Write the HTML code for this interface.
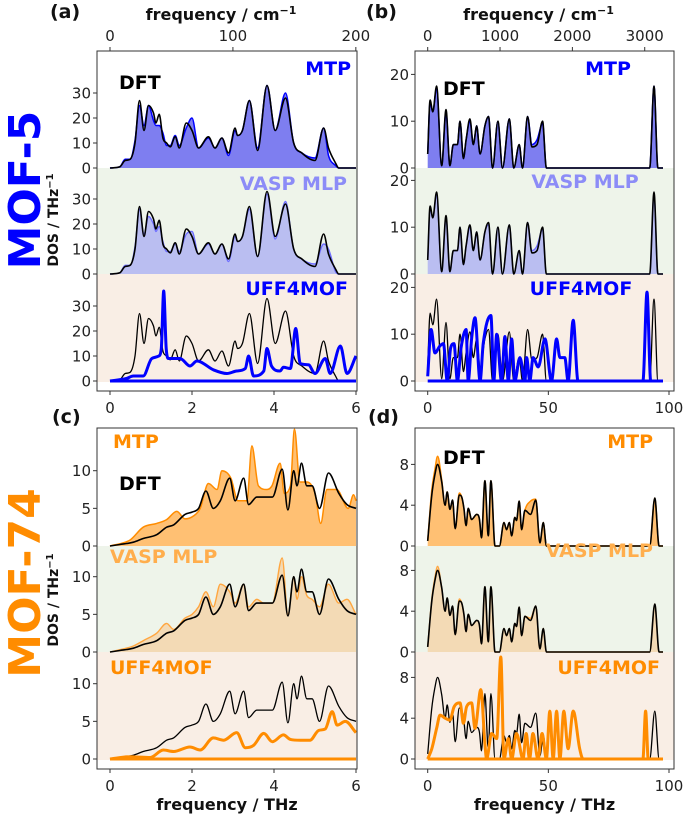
<!DOCTYPE html>
<html><head><meta charset="utf-8"><style>
html,body{margin:0;padding:0;background:#fff;}
svg{display:block;font-family:"DejaVu Sans","Liberation Sans",sans-serif;}
.tk{font-size:15px;fill:#222;}
.lb{font-size:19px;font-weight:bold;}
.ax{font-size:16px;font-weight:bold;fill:#111;}
</style></head><body>
<svg id="fig" width="685" height="817" viewBox="0 0 685 817"></svg>
<script>
// ---------- data (THz, DOS / THz^-1) ----------
const aFreq=[0,0.24,0.37,0.49,0.61,0.72,0.83,0.94,1.06,1.12,1.2,1.29,1.38,1.47,1.59,1.69,1.86,2.0,2.16,2.4,2.56,2.73,2.89,3.05,3.11,3.23,3.4,3.6,3.83,4.03,4.28,4.48,4.68,5.0,5.21,5.33,5.5,5.58,6.0];
const aDft=[0,0.5,3,3.5,10,27,15,25,22,18,21.5,12,10,8.5,12.5,8,18,15,8,12.5,8,12,6,16,13,15,27,7,33,15,28,10,6,3,16,8,2,0,0];
const aMtp=[0,0.5,3.5,3.5,11,25,17,25,19,17,17,14,9,9,13,9,16,20,8,12,8,12,5,15,13,15,27,8,33,15,30,10,6,4,16,5,1,0,0];
const aVasp=[0,0.5,3.5,3.5,11,26,16,23,20,17,19,13,9,9,12,9,16,17,8,12,8,12,5,15,13,15,26,7,32,14,29,10,6,4,12,10,1,0,0];
const aUffFreq=[0,0.4,0.57,0.81,1.02,1.19,1.25,1.31,1.37,1.43,1.71,1.95,2.12,2.52,2.85,3.09,3.3,3.38,3.5,3.75,3.83,3.94,4.15,4.23,4.4,4.53,4.64,4.84,5.0,5.25,5.37,5.62,5.78,6.0];
const aUff=[0,1,2,2,9,10,13,36,13,9,9,6,8,4.5,3,4,5,10,2,4,13,6,4,5.5,5,21,7,6.5,3,9,3,14,3,10];

const bFreq=[0,1,2.1,3.7,5.8,7.6,9.2,10.6,12.3,13.4,14.8,15.9,17.5,18.9,20.3,21.7,23.7,25.2,26.9,29.1,31,33.8,35.7,37.9,39.3,41.4,43.2,45.3,47.6,49.2,92,93.8,95.4,97.5];
const bDft=[3,14.5,12,17.5,0.5,12.5,0.5,5,5,10,2,6,10.5,5,9,3,9,11,0,10,0,10.5,0,5,0,11,4.5,5,10,0,0,17.5,0,0];
const bMtp=[3,14,12,17,0.5,12,0.5,5,5,10,2,6,10,5,9,3,9,11,0,10,0,10.5,0,5,0,11,5,6,9.5,0,0,17.5,0,0];
const bVasp=[3,14,12,17,0.5,12,0.5,5,5,10,2,6,10,5,9,3,9,10.5,0,10,0,10.5,0,5,0,11,5,6,9.5,0,0,17,0,0];
const bUffFreq=[0,1.4,3,5.1,6.5,8.1,9.5,10.9,12.3,13.8,15.9,16.8,18.2,19.6,21.7,23,26.2,27.4,28.6,30.6,32,33.4,34.8,36.1,38.2,40.3,41,42.3,43.7,45.8,48.6,51.3,53.4,54.8,56.8,58.2,60.3,62.3,89.2,90.9,92.4,97.5];
const bUff=[1,11,6,7.5,8,0,7,8,0,7,11,0,9,13.5,0,8,14,0,10,0,9.5,0,9,0,5,0,5,0,5,3,9,0,9,5,5,0,13,0,0,19,0,0];

const cFreq=[0,0.24,0.57,0.81,1.14,1.38,1.55,1.83,2.0,2.16,2.34,2.52,2.69,2.92,3.05,3.26,3.38,3.58,3.75,3.96,4.2,4.34,4.48,4.56,4.67,4.8,4.93,5.11,5.33,5.58,5.78,6.0];
const cDft=[0,0.2,0.5,1,1.5,2.5,2.8,4.2,4.5,5,7.3,5,6,9,6,9,5.5,6.5,6.5,6.5,10.2,4.8,10,8,11,8,8,5,9.7,7,5.5,5];
const cVasp=[0,0.3,0.8,1.5,2.5,3.8,3,4.5,5,6,8,6,9,8,6.5,9,6,7,6.5,6.5,12.5,5,10,7,10,7.5,7,6,9,6.5,7,5];
const cMtpFreq=[0,0.49,0.81,1.14,1.38,1.63,1.83,2.04,2.2,2.4,2.61,2.73,2.95,3.12,3.34,3.46,3.62,3.83,3.95,4.15,4.25,4.4,4.5,4.63,4.8,5.0,5.14,5.29,5.53,5.81,5.94,6.0];
const cMtp=[0,0.8,2.5,3,3.5,4.6,3.6,4,5,8.3,7.5,10,9,6,6,13.3,8,7.5,8,11,7,8,15.5,8.5,8.5,7,3,7.5,7.5,5,6.8,6];
const cUffFreq=[0,0.5,0.98,1.3,1.55,1.95,2.2,2.52,2.77,3.09,3.3,3.5,3.75,3.96,4.23,4.4,4.64,4.88,5.09,5.25,5.42,5.54,5.74,6.0];
const cUff=[0,0.3,0.2,1.2,1,1.6,1.2,2.8,2.5,3.5,1.5,1.8,3.4,2.3,3.2,2.6,2.5,2.5,3.8,4,6.3,4.5,5,3.5];

const dFreq=[0,1.7,3,4.1,5.8,7.2,8.1,9.2,10.3,11.4,13.1,14.1,15,15.9,16.8,18.2,20.3,21.4,22.3,23.7,25.1,26.2,27.9,29.7,31.6,32.7,33.8,34.8,36.1,36.8,37.9,38.9,40.3,42.6,44.8,46.5,47.9,49.2,92,94.1,95.9,97.5];
const dDft=[0.5,5,7,8,6.3,4,5.3,3.6,4.5,1.7,5,4.8,3.7,2,3.7,2.6,3.1,2.7,0.8,6.4,1,6.4,0,0,2.3,1.6,2.3,1,2.8,2.5,4.4,1.6,3.5,3.1,4.5,0.3,2.3,0,0,4.7,0,0];
const dMtp=[0.5,5.5,7.5,8.8,6.5,4,5.3,3.6,4.5,1.7,5.2,4.8,3.7,2,3.7,2.6,3.1,2.7,0.8,6.4,1,6.4,0,0,2.3,1.6,2.3,1,2.8,2.5,4.4,1.6,3.5,4.4,4.6,0.3,2.3,0,0,4.7,0,0];
const dVasp=[0.5,5.2,7.3,8.4,6.3,4,5.3,3.6,4.5,1.7,5.2,4.8,3.7,2,3.7,2.6,3.1,2.7,0.8,6.4,1,6.4,0,0,2.3,1.6,2.3,1,2.8,2.5,4.4,1.6,3.5,3.3,4.5,0.3,2.3,0,0,4.7,0,0];
const dUffFreq=[0,1.7,3.7,5.1,7.2,9.2,10.9,13.4,14.8,16.1,18.2,19.6,22,23.7,24.4,26.5,28.6,30.3,31.6,33.4,34.8,36.8,39.5,40.8,42.2,43.6,45.7,47.4,49.2,50.6,52,53.4,54.8,56.4,58.2,60.3,63,64.4,89.2,90.3,91.4,97.5];
const dUff=[0,1,3,4.3,4,3.8,5.1,5.5,3.5,5.1,5.5,3,6.8,1.5,0,2.5,2,10,0,2,0,2.5,0,2.5,0,2.5,0,2.5,0,4.7,0,4.7,0,4.7,1,4.7,1,0,0,4.7,0,0];

const aTicksY=[0,10,20,30], bTicksY=[0,10,20], cTicksY=[0,5,10], dTicksY=[0,4,8];
const leftTicksX=[0,2,4,6], rightTicksX=[0,50,100];
const aTopTicks=[0,100,200], bTopTicks=[0,1000,2000,3000];

const NS="http://www.w3.org/2000/svg";
const svg=document.getElementById('fig');
function el(tag,attrs,parent){const e=document.createElementNS(NS,tag);for(const k in attrs)e.setAttribute(k,attrs[k]);(parent||svg).appendChild(e);return e;}
function txt(s,attrs,parent){const e=el('text',attrs,parent);e.textContent=s;return e;}

function monoPath(px,py){
  const n=px.length;const m=[],t=[];
  for(let i=0;i<n-1;i++){const dx=px[i+1]-px[i];m.push(dx===0?0:(py[i+1]-py[i])/dx);}
  t[0]=m[0];t[n-1]=m[n-2];
  for(let i=1;i<n-1;i++){t[i]=(m[i-1]*m[i]<=0)?0:(m[i-1]+m[i])/2;}
  for(let i=0;i<n-1;i++){if(m[i]===0){t[i]=0;t[i+1]=0;continue;}const a=t[i]/m[i],b=t[i+1]/m[i],s=a*a+b*b;if(s>9){const k=3/Math.sqrt(s);t[i]=k*a*m[i];t[i+1]=k*b*m[i];}}
  let d='M'+px[0].toFixed(1)+','+py[0].toFixed(1);
  for(let i=0;i<n-1;i++){const dx=(px[i+1]-px[i])/3;
    d+='C'+(px[i]+dx).toFixed(1)+','+(py[i]+t[i]*dx).toFixed(1)+' '+(px[i+1]-dx).toFixed(1)+','+(py[i+1]-t[i+1]*dx).toFixed(1)+' '+px[i+1].toFixed(1)+','+py[i+1].toFixed(1);}
  return d;
}

function panel(p){
  const g=el('g',{});
  
  
  const cid='clip-'+p.name;
  const cp=el('clipPath',{id:cid},g);el('rect',{x:p.L,y:p.T,width:p.R-p.L,height:p.B-p.T},cp);
  const X=v=>p.x0+p.xs*v;
  const bg=el('rect',{x:p.L,y:p.z[0],width:p.R-p.L,height:p.z[1]-p.z[0],fill:'#eef4ea'},g);
  
  const bg2=el('rect',{x:p.L,y:p.z[1],width:p.R-p.L,height:p.z[2]-p.z[1]+1,fill:'#f9eee5'},g);
  
  const cg=el('g',{'clip-path':'url(#'+cid+')'},g);
  function series(xs,ys,base,opt,name){
    const px=xs.map(X),py=ys.map(v=>base-p.ppu*v);
    const d=monoPath(px,py);
    if(opt.fill){const f=el('path',{d:d+'L'+px[px.length-1]+','+base+'L'+px[0]+','+base+'Z',fill:opt.fill,stroke:'none'},cg);
      }
    const l=el('path',{d:d,fill:'none',stroke:opt.stroke,'stroke-width':opt.w,'stroke-linejoin':'round'},cg);
    
  }
  series(p.mtpX,p.mtpY,p.z[0],{fill:p.c.mtpFill,stroke:p.c.main,w:1.5},'mtp');
  series(p.dftX,p.dftY,p.z[0],{stroke:'#000',w:1.6},'dft-mtp-band');
  series(p.dftX,p.vaspY,p.z[1],{fill:p.c.vaspFill,stroke:p.c.vaspLine,w:1.4},'vasp-mlp');
  series(p.dftX,p.dftY,p.z[1],{stroke:'#000',w:1.6},'dft-vasp-band');
  series(p.dftX,p.dftY,p.z[2],{stroke:'#000',w:1.3},'dft-uff-band');
  const zl=el('line',{x1:X(p.uffX[0]),x2:X(p.uffX[p.uffX.length-1]),y1:p.z[2],y2:p.z[2],stroke:p.c.main,'stroke-width':3},cg);
  
  series(p.uffX,p.uffY,p.z[2],{stroke:p.c.main,w:3},'uff4mof');
  const fr=el('rect',{x:p.L,y:p.T,width:p.R-p.L,height:p.B-p.T,fill:'none',stroke:'#333','stroke-width':1},g);
  
  p.z.forEach(z=>{p.yt.forEach(v=>{const y=z-p.ppu*v;
    el('line',{x1:p.L-4,x2:p.L,y1:y,y2:y,stroke:'#333'},g);
    const t=txt(String(v),{x:p.L-6,y:y+5.5,'text-anchor':'end',class:'tk'},g);
    });});
  p.xt.forEach(v=>{el('line',{x1:X(v),x2:X(v),y1:p.B,y2:p.B+4,stroke:'#333'},g);
    const t=txt(String(v),{x:X(v),y:p.B+22,'text-anchor':'middle',class:'tk'},g);
    });
  if(p.top){p.top.forEach(v=>{const x=X(v/33.356);el('line',{x1:x,x2:x,y1:p.T-4,y2:p.T,stroke:'#333'},g);
    const t=txt(String(v),{x:x,y:p.T-10,'text-anchor':'middle',class:'tk'},g);
    });
    const tl=txt('frequency / cm',{x:(p.L+p.R)/2-6,y:20,'text-anchor':'middle',class:'ax'},g);
    const sp=el('tspan',{dy:-6,'font-size':'11px'},tl);sp.textContent='−1';
    }
  else{const tl=txt('frequency / THz',{x:(p.L+p.R)/2,y:810,'text-anchor':'middle',class:'ax'},g);
    }
  const pl=txt(p.label,{x:p.lx,y:p.ly,class:'lb',fill:'#111'},g);
  
  p.texts.forEach(s=>{const t=txt(s[0],{x:s[1],y:s[2],class:'lb',fill:s[3],'text-anchor':s[4]||'start'},g);
    });
}
const blue={main:'#0000ff',mtpFill:'rgba(40,40,230,0.6)',vaspFill:'rgba(90,90,255,0.35)',vaspLine:'#6f6fff'};
const orng={main:'#ff8c00',mtpFill:'rgba(255,140,0,0.55)',vaspFill:'rgba(255,160,60,0.3)',vaspLine:'#ffa640'};
panel({name:'panel-a',L:97,R:357,T:51,B:391,x0:110,xs:41,ppu:2.5,z:[168,274,381],yt:aTicksY,xt:leftTicksX,top:aTopTicks,c:blue,
  dftX:aFreq,dftY:aDft,mtpX:aFreq,mtpY:aMtp,vaspY:aVasp,uffX:aUffFreq,uffY:aUff,label:'(a)',lx:50,ly:18,
  texts:[['DFT',119,89,'#000','start','dft-label'],['MTP',351,75,'#0000ff','end','mtp-label'],['VASP MLP',347,190,'#8c8cf7','end','vasp-label'],['UFF4MOF',348,295,'#0000ff','end','uff-label']]});
panel({name:'panel-b',L:415,R:674,T:51,B:391,x0:427.7,xs:2.413,ppu:4.68,z:[168,274,381],yt:bTicksY,xt:rightTicksX,top:bTopTicks,c:blue,
  dftX:bFreq,dftY:bDft,mtpX:bFreq,mtpY:bMtp,vaspY:bVasp,uffX:bUffFreq,uffY:bUff,label:'(b)',lx:366,ly:18,
  texts:[['DFT',443,95,'#000','start','dft-label'],['MTP',608,75,'#0000ff','middle','mtp-label'],['VASP MLP',585,188,'#8c8cf7','middle','vasp-label'],['UFF4MOF',581,295,'#0000ff','middle','uff-label']]});
panel({name:'panel-c',L:97,R:357,T:428,B:769,x0:110,xs:41,ppu:7.53,z:[546,652,759],yt:cTicksY,xt:leftTicksX,c:orng,
  dftX:cFreq,dftY:cDft,mtpX:cMtpFreq,mtpY:cMtp,vaspY:cVasp,uffX:cUffFreq,uffY:cUff,label:'(c)',lx:52,ly:423,
  texts:[['MTP',113,448,'#ff8c00','start','mtp-label'],['DFT',119,490,'#000','start','dft-label'],['VASP MLP',110,563,'#ffae4d','start','vasp-label'],['UFF4MOF',110,674,'#ff8c00','start','uff-label']]});
panel({name:'panel-d',L:415,R:674,T:428,B:769,x0:427.7,xs:2.413,ppu:10.2,z:[546,652,759],yt:dTicksY,xt:rightTicksX,c:orng,
  dftX:dFreq,dftY:dDft,mtpX:dFreq,mtpY:dMtp,vaspY:dVasp,uffX:dUffFreq,uffY:dUff,label:'(d)',lx:368,ly:423,
  texts:[['DFT',443,464,'#000','start','dft-label'],['MTP',653,448,'#ff8c00','end','mtp-label'],['VASP MLP',653,557,'#ffae4d','end','vasp-label'],['UFF4MOF',660,674,'#ff8c00','end','uff-label']]});
function rot(s,x,y,attrs,name){const t=txt(s,Object.assign({transform:'translate('+x+','+y+') rotate(-90)','text-anchor':'middle'},attrs));
  return t;}
rot('MOF-5',40,190,{'font-size':'44px','font-weight':'bold',fill:'#0000ff'},'mof5-row-label');
rot('MOF-74',40,583,{'font-size':'44px','font-weight':'bold',fill:'#ff8c00'},'mof74-row-label');
const y1=rot('DOS / THz',58,220,{'font-size':'14px','font-weight':'bold',fill:'#111'},'y-axis-title-top');
const s1=el('tspan',{dy:-5,'font-size':'10px'},y1);s1.textContent='−1';
const y2=rot('DOS / THz',58,600,{'font-size':'14px','font-weight':'bold',fill:'#111'},'y-axis-title-bottom');
const s2=el('tspan',{dy:-5,'font-size':'10px'},y2);s2.textContent='−1';
</script>
</body></html>
